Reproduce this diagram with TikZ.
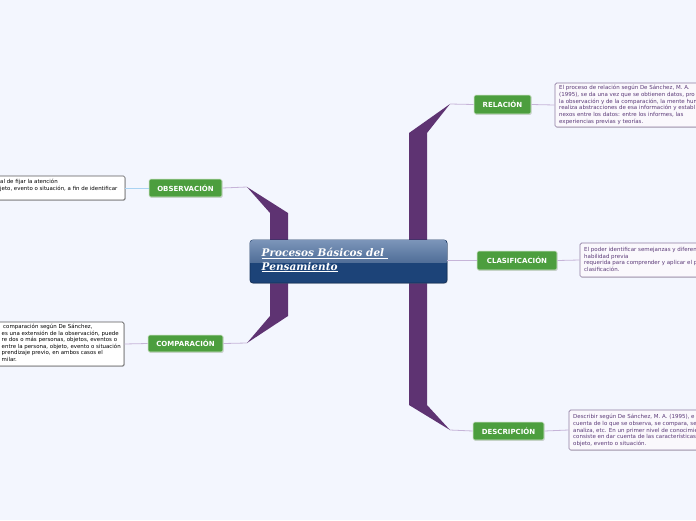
\documentclass[tikz,border=0pt]{standalone}
\usepackage{fontspec}
\setmainfont{DejaVu Sans}
\newfontfamily\titlefont{DejaVu Serif}
\usetikzlibrary{shadows}
\definecolor{bg}{HTML}{F3F6FE}
\definecolor{trunk}{HTML}{5E3372}
\definecolor{connc}{HTML}{C6B4D8}
\definecolor{obsc}{HTML}{A9D3F2}
\definecolor{greenf}{HTML}{4C9E3E}
\definecolor{greend}{HTML}{D9E8D5}
\definecolor{ctop}{HTML}{7C95B9}
\definecolor{cmid}{HTML}{506E98}
\definecolor{cbot}{HTML}{1C4378}
\definecolor{cborder}{HTML}{13305A}
\definecolor{rboxf}{HTML}{FAF8FC}
\definecolor{rboxd}{HTML}{8F7DA2}
\definecolor{rtext}{HTML}{5B3A78}
\definecolor{lboxd}{HTML}{5A5A5A}
\tikzset{
  conn/.style={draw=connc, line width=0.8pt},
  topic/.style={fill=greenf, draw=greend, line width=0.6pt, rounded corners=1.5pt,
    text=white, font=\fontsize{7}{8}\selectfont\bfseries, inner sep=0pt,
    minimum height=18pt,
    drop shadow={shadow xshift=0.7pt, shadow yshift=-0.9pt, opacity=0.35}},
  rbox/.style={fill=rboxf, draw=rboxd, line width=0.7pt, rounded corners=1.5pt, inner sep=0pt,
    drop shadow={shadow xshift=0.8pt, shadow yshift=-0.9pt, opacity=0.3}},
  lbox/.style={fill=white, draw=lboxd, line width=0.7pt, rounded corners=1.5pt, inner sep=0pt,
    drop shadow={shadow xshift=0.8pt, shadow yshift=-0.9pt, opacity=0.3}},
  rtxt/.style={text=rtext, font=\fontsize{5.5}{6.75}\selectfont, align=left, inner sep=0pt, anchor=north west},
  ltxt/.style={text=black, font=\fontsize{5.45}{6.6}\selectfont, align=left, inner sep=0pt, anchor=north west},
}
\begin{document}
\begin{tikzpicture}[x=1pt,y=-1pt]
\useasboundingbox (0,0) rectangle (696,520);
\fill[bg] (0,0) rectangle (696,520);
\clip (0,0) rectangle (696,520);

% trunks
\fill[trunk] (247,187) -- (270,213) -- (270,316) -- (247,343) -- (288,316) -- (288,213) -- cycle;
\fill[trunk] (450,104) -- (409,133) -- (409,405) -- (450,430) -- (427,405) -- (427,133) -- cycle;

\coordinate (lt) at (247,187);
\coordinate (lb) at (247,343);
\coordinate (rt) at (450,104);
\coordinate (rb) at (450,430);

% central topic
\node[draw=cborder, fill=cbot, line width=0.8pt, rounded corners=3pt, minimum width=197pt, minimum height=43pt, inner sep=0pt,
  drop shadow={shadow xshift=0.8pt, shadow yshift=-0.9pt, opacity=0.3}] (central) at (348.5,261.5) {};
\begin{scope}
\clip[rounded corners=3pt] ([xshift=0.4pt,yshift=-0.4pt]central.north west) rectangle ([xshift=-0.4pt,yshift=0.4pt]central.south east);
\shade[top color=ctop, bottom color=cmid] ([xshift=0.4pt,yshift=-0.4pt]central.north west) rectangle (446.6,262.3);
\end{scope}
\node[text=white, font=\titlefont\fontsize{10.5}{13.5}\selectfont\bfseries\itshape, align=left, inner sep=0pt, anchor=north west] (ctext) at (261.5,248)
  {\underline{Procesos Básicos del\ }\\\underline{Pensamiento}};

% main topics
\node[topic, minimum width=73pt] (obs) at (185.5,188) {OBSERVACIÓN};
\node[topic, minimum width=75pt, minimum height=17pt] (comp) at (185.5,343.5) {COMPARACIÓN};
\node[topic, minimum width=57pt, minimum height=19pt] (rel) at (502.5,104.5) {RELACIÓN};
\node[topic, minimum width=80pt, minimum height=19pt] (clas) at (517,260.5) {CLASIFICACIÓN};
\node[topic, minimum width=71pt] (desc) at (508.5,431) {DESCRIPCIÓN};

% connectors from trunks
\draw[conn] (lt) -- (obs.east);
\draw[conn] (lb) -- (comp.east);
\draw[conn] (rt) -- (rel.west);
\draw[conn] (central.east |- clas.west) -- (clas.west);
\draw[conn] (rb) -- (desc.west);

% note boxes
\node[lbox, minimum width=140pt, minimum height=24pt] (obsbox) at (55,188) {};
\node[lbox, minimum width=140pt, minimum height=44pt] (compbox) at (54,344) {};
\node[rbox, minimum width=160pt, minimum height=44pt] (relbox) at (635,105) {};
\node[rbox, minimum width=140pt, minimum height=34pt] (clasbox) at (650,260) {};
\node[rbox, minimum width=150pt, minimum height=40pt] (descbox) at (644,430) {};

\draw[draw=obsc, line width=0.8pt] (obsbox.east) -- (obs.west);
\draw[conn] (compbox.east) -- (comp.west);
\draw[conn] (rel.east) -- (relbox.west);
\draw[conn] (clas.east) -- (clasbox.west);
\draw[conn] (desc.east) -- (descbox.west);

% note texts
\node[ltxt] (obstext) at (0,179) {al de fijar la atención\\jeto, evento o situación, a fin de identificar};
\node[ltxt] (comptext) at (1.5,324) {\hspace{1.5pt}comparación según De Sánchez,\\es una extensión de la observación, puede\\re dos o más personas, objetos, eventos o\\entre la persona, objeto, evento o situación\\prendizaje previo, en ambos casos el\\milar.};
\node[rtxt] (reltext) at (559,85) {El proceso de relación según De Sánchez, M. A.\\(1995), se da una vez que se obtienen datos, pro\\la observación y de la comparación, la mente hum\\realiza abstracciones de esa información y establ\\nexos entre los datos: entre los informes, las\\experiencias previas y teorías.};
\node[rtxt] (clastext) at (584,247) {El poder identificar semejanzas y diferen\\habilidad previa\\requerida para comprender y aplicar el p\\clasificación.};
\node[rtxt] (desctext) at (573,414) {Describir según De Sánchez, M. A. (1995), e\\cuenta de lo que se observa, se compara, se\\analiza, etc. En un primer nivel de conocimie\\consiste en dar cuenta de las características\\objeto, evento o situación.};
\end{tikzpicture}
\end{document}
